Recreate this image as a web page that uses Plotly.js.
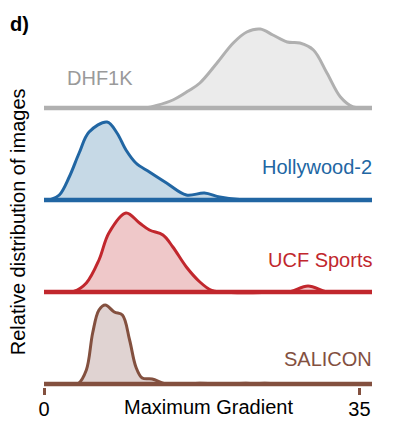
<!DOCTYPE html>
<html>
<head>
<meta charset="utf-8">
<script src="https://cdn.plot.ly/plotly-3.0.1.min.js"></script>
<style>html,body{margin:0;padding:0;background:#fff;}#chart{width:404px;height:443px;}</style>
</head>
<body>
<div id="chart"></div>
<script>
// Relative density curves (arbitrary units), x = Maximum Gradient
const dhfX = [0, 10.5, 11.4, 12.5, 14.3, 16, 17.3, 19.2, 21, 22.5, 24, 25.4, 27, 28.4, 29.9, 31.4, 32.9, 34.3, 35.2, 35.8, 36.4];
const dhfY = [0, 0, 0.3, 2.5, 8, 17, 25, 45, 65, 76, 79, 73, 66, 65, 58, 35, 11, 1, 0, 0, 0];

const holX = [0, 0.3, 0.7, 1.7, 2.8, 3.9, 5, 7.0, 8.1, 9.1, 10.2, 11.7, 13.6, 15.8, 17.8, 19.5, 21.7, 24, 25, 36.4];
const holY = [0, 0, 0.3, 5, 23, 47, 68, 78, 67, 50, 37, 28, 17, 5, 7, 3, 0.5, 0, 0, 0];

const ucfX = [0, 2.5, 3.3, 4.7, 6.1, 7.2, 9.1, 10.6, 11.7, 13.2, 14.3, 15.8, 17.3, 18.6, 19.6, 26.5, 27.4, 29.3, 31.2, 32, 33.5, 35, 36.4];
const ucfY = [0, 0, 0.5, 9, 32, 59, 79, 69, 62, 57, 45, 25, 10, 1.5, 0, 0, 0.5, 6, 0.5, 0, 0.5, 0, 0];

const salX = [0, 3, 3.8, 4.7, 5.4, 6.1, 6.8, 7.8, 8.7, 9.5, 10.2, 10.9, 12, 13.4, 14.2, 15.5, 17.3, 19, 21, 22.4, 23.4, 24.5, 26, 36.4];
const salY = [0, 0, 0.5, 14, 51, 74, 79, 72, 69, 44, 17, 6, 5, 0.3, 0, 0, 0.8, 0, 0, 0.8, 0.3, 0.8, 0, 0];

const names = ["DHF1K", "Hollywood-2", "UCF Sports", "SALICON"];
const lineColors = ["#b0b0b0", "#2166a3", "#c1272d", "#83503f"];
const fillColors = ["#ebebeb", "#c6d9e6", "#efc8c9", "#e0d3d2"];
const labelColors = ["#9a9a9a", "#2166a3", "#c1272d", "#83503f"];
const xTicks = [0, 35];
const xMax = 36.4;

const xs = [dhfX, holX, ucfX, salX];
const ys = [dhfY, holY, ucfY, salY];
const yaxisIds = ["y4", "y3", "y2", "y"];

const traces = [];
names.forEach((n, i) => {
  traces.push({
    type: "scatter", mode: "lines", name: n,
    x: xs[i], y: ys[i], xaxis: "x", yaxis: yaxisIds[i],
    line: {color: lineColors[i], width: 3, shape: "spline", smoothing: 1},
    fill: "tozeroy", fillcolor: fillColors[i], hoverinfo: "skip"
  });
  traces.push({
    type: "scatter", mode: "lines", name: n + " baseline",
    x: [0, xMax], y: [0, 0], xaxis: "x", yaxis: yaxisIds[i],
    line: {color: lineColors[i], width: 4.5}, hoverinfo: "skip"
  });
});

const font = {family: "Liberation Sans, Arial, sans-serif", size: 20, color: "#000"};
const yBase = {range: [-3, 89], showgrid: false, zeroline: false, showticklabels: false, ticks: "", showline: false, fixedrange: true};

const layout = {
  width: 404, height: 443,
  margin: {l: 44, r: 32, t: 19, b: 56},
  paper_bgcolor: "#fff", plot_bgcolor: "rgba(0,0,0,0)",
  showlegend: false, font: font,
  xaxis: {range: [0, xMax], tickvals: xTicks, ticktext: xTicks.map(String),
    ticks: "outside", ticklen: 7, tickwidth: 3, tickcolor: lineColors[3],
    ticklabelstandoff: -3,
    showgrid: false, zeroline: false, showline: false, anchor: "y",
    tickfont: {family: font.family, size: 20, color: "#000"}},
  yaxis: Object.assign({domain: [0, 0.25], anchor: "x"}, yBase),
  yaxis2: Object.assign({domain: [0.25, 0.5], anchor: "x"}, yBase),
  yaxis3: Object.assign({domain: [0.5, 0.75], anchor: "x"}, yBase),
  yaxis4: Object.assign({domain: [0.75, 1], anchor: "x"}, yBase),
  annotations: [
    {text: names[0], xref: "x", yref: "y4", x: 2.3, y: 30, xanchor: "left", yanchor: "middle", showarrow: false, font: {family: font.family, size: 20, color: labelColors[0]}},
    {text: names[1], xref: "x", yref: "y3", x: 36.3, xshift: 3, y: 33, xanchor: "right", yanchor: "middle", showarrow: false, font: {family: font.family, size: 20, color: labelColors[1]}},
    {text: names[2], xref: "x", yref: "y2", x: 36.3, xshift: 3, y: 32, xanchor: "right", yanchor: "middle", showarrow: false, font: {family: font.family, size: 20, color: labelColors[2]}},
    {text: names[3], xref: "x", yref: "y", x: 36.3, xshift: 3, y: 25, xanchor: "right", yanchor: "middle", showarrow: false, font: {family: font.family, size: 20, color: labelColors[3]}},
    {text: "Maximum Gradient", xref: "paper", yref: "paper", x: 0.5, y: -0.055, xanchor: "center", yanchor: "middle", showarrow: false, font: font},
    {text: "Relative distribution of images", textangle: -90, xref: "paper", yref: "paper", x: -0.079, y: 0.448, xanchor: "center", yanchor: "middle", showarrow: false, font: font},
    {text: "<b>d)</b>", xref: "paper", yref: "paper", x: -0.11, y: 0.986, xanchor: "left", yanchor: "middle", showarrow: false, font: font}
  ]
};

Plotly.newPlot("chart", traces, layout, {staticPlot: true, displayModeBar: false});
</script>
</body>
</html>
